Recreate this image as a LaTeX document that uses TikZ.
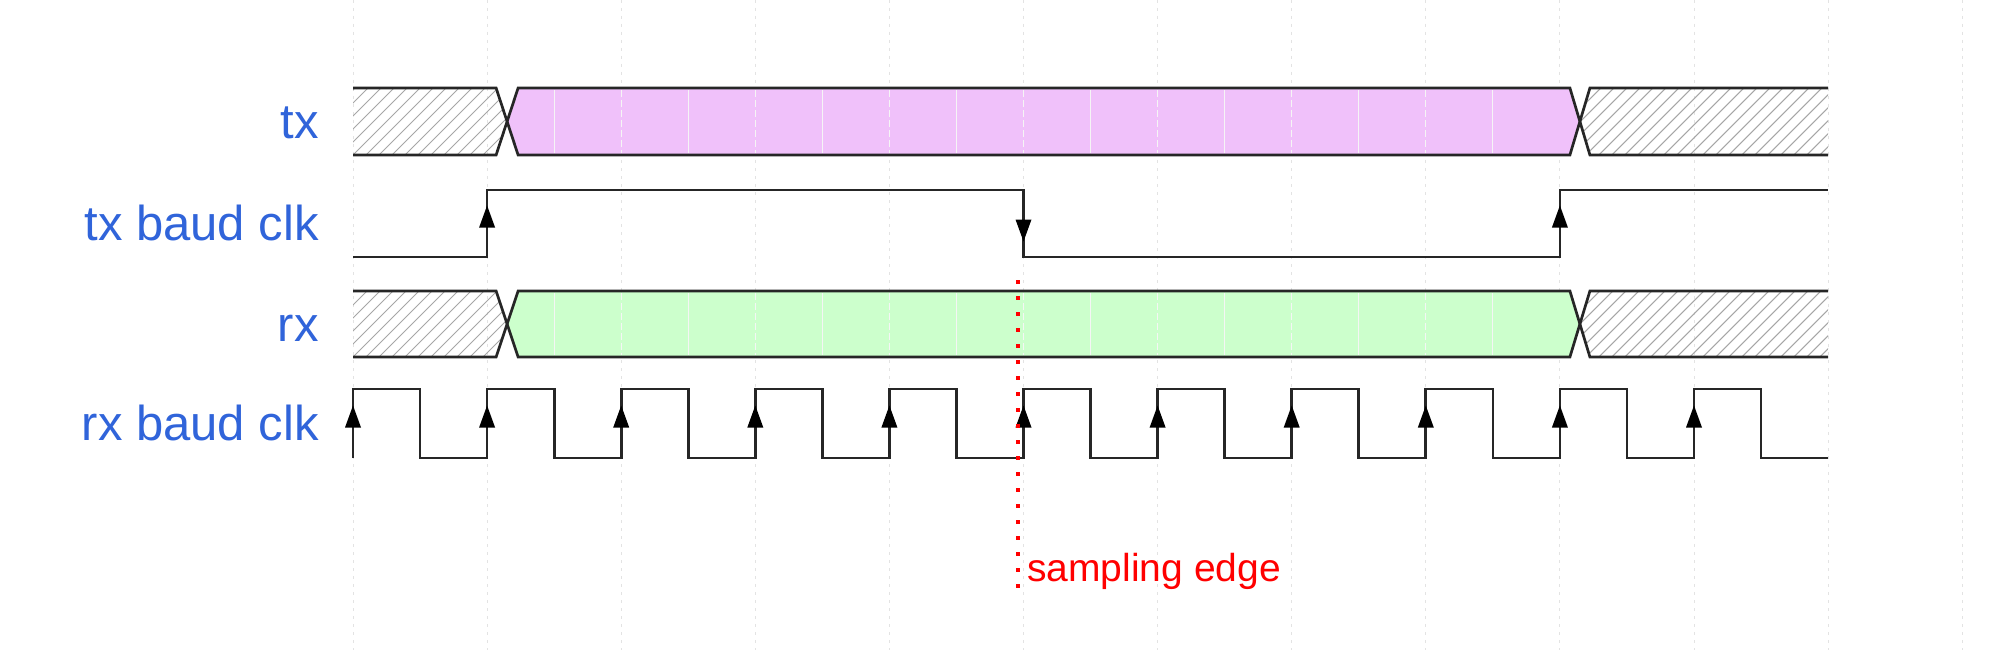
\documentclass[tikz,border=0pt]{standalone}
\usepackage{fontspec}
\setmainfont{Liberation Sans}
\definecolor{lblblue}{RGB}{48,100,218}
\definecolor{pinkfill}{RGB}{240,193,250}
\definecolor{greenfill}{RGB}{204,255,204}
\begin{document}
\begin{tikzpicture}[x=1pt,y=-1pt,
  wave/.style={line width=2.7pt, line join=miter, black!85},
  hatchline/.style={line width=1pt, gray!70},
  gridline/.style={line width=1pt, gray!22, dash pattern=on 3pt off 5pt},
  divsolid/.style={line width=1.2pt, white!92!gray},
  divdash/.style={line width=1.2pt, white!92!gray, dash pattern=on 7pt off 3pt},
  siglabel/.style={anchor=base east, inner sep=0pt, text=lblblue, font=\fontsize{49}{58}\selectfont},
  samplabel/.style={anchor=base west, inner sep=0pt, text=red, font=\fontsize{39}{46}\selectfont},
  sampline/.style={red, line width=4pt, dash pattern=on 4pt off 12pt}]
\useasboundingbox (0,0) rectangle (2013,650);
\fill[white] (0,0) rectangle (2013,650);
\def\xo{353}
\def\T{134.1}
% background grid
\foreach \k in {0,...,12}{
  \draw[gridline] ({\xo+\k*\T},0) -- ({\xo+\k*\T},650);
}
% ---------- generic bus drawing macro ----------
% #1 top y, #2 bottom y, #3 fill colour
\newcommand\busrow[3]{%
  \pgfmathsetmacro\mid{(#1+#2)/2}
  \pgfmathsetmacro\ea{\xo+1*\T}
  \pgfmathsetmacro\eb{\xo+9*\T}
  \pgfmathsetmacro\xend{\xo+11*\T}
  % data fill
  \fill[#3] ({\ea+20},\mid) -- ({\ea+31},#1) -- ({\eb+10},#1) -- ({\eb+20},\mid) -- ({\eb+10},#2) -- ({\ea+31},#2) -- cycle;
  % white divisions
  \foreach \h in {1.5,2.5,...,8.5}{
    \draw[divsolid] ({\xo+\h*\T},{#1+2}) -- ({\xo+\h*\T},{#2-2});
  }
  \foreach \h in {2,...,8}{
    \draw[divdash] ({\xo+\h*\T},{#1+2}) -- ({\xo+\h*\T},{#2-2});
  }
  % hatch left
  \begin{scope}
    \clip (\xo,#1) -- ({\ea+9},#1) -- ({\ea+20},\mid) -- ({\ea+9},#2) -- (\xo,#2) -- cycle;
    \foreach \i in {-7,...,13}{
      \draw[hatchline] ({\xo+\i*13},#2) -- ({\xo+\i*13+(#2-#1)},#1);
    }
  \end{scope}
  % hatch right
  \begin{scope}
    \clip (\xend,#1) -- ({\eb+30},#1) -- ({\eb+20},\mid) -- ({\eb+30},#2) -- (\xend,#2) -- cycle;
    \foreach \i in {-7,...,22}{
      \draw[hatchline] ({\eb+\i*13},#2) -- ({\eb+\i*13+(#2-#1)},#1);
    }
  \end{scope}
  % outlines
  \draw[wave] (\xo,#1) -- ({\ea+9},#1) -- ({\ea+31},#2) -- ({\eb+10},#2) -- ({\eb+30},#1) -- (\xend,#1);
  \draw[wave] (\xo,#2) -- ({\ea+9},#2) -- ({\ea+31},#1) -- ({\eb+10},#1) -- ({\eb+30},#2) -- (\xend,#2);
}
\newcommand\uparr[2]{\fill[black] ({#1-8},{#2+4}) -- ({#1},{#2-18}) -- ({#1+8},{#2+4}) -- cycle;}
\newcommand\dnarr[2]{\fill[black] ({#1-8},{#2-4}) -- ({#1},{#2+18}) -- ({#1+8},{#2-4}) -- cycle;}

% tx
\busrow{88}{155}{pinkfill}
% rx
\busrow{291}{357}{greenfill}

% tx baud clk
\draw[wave] (\xo,257) -- ({\xo+\T},257) -- ({\xo+\T},190) -- ({\xo+5*\T},190) -- ({\xo+5*\T},257) -- ({\xo+9*\T},257) -- ({\xo+9*\T},190) -- ({\xo+11*\T},190);
\uparr{\xo+\T}{223.5}
\dnarr{\xo+5*\T}{223.5}
\uparr{\xo+9*\T}{223.5}

% rx baud clk
\draw[wave] (\xo,458) \foreach \k in {0,...,10} { -- ({\xo+\k*\T},389) -- ({\xo+(\k+0.5)*\T},389) -- ({\xo+(\k+0.5)*\T},458) -- ({\xo+(\k+1)*\T},458) };
\foreach \k in {0,...,10}{
  \uparr{\xo+\k*\T}{423.5}
}
% labels
\node[siglabel] (ltx) at (319,139) {tx};
\node[siglabel] (ltxclk) at (319,240) {tx baud clk};
\node[siglabel] (lrx) at (319,341) {rx};
\node[siglabel] (lrxclk) at (319,440) {rx baud clk};

% sampling edge
\coordinate (stop) at (1018,280);
\coordinate (sbot) at (1018,594);
\draw[sampline] (stop) -- (sbot);
\node[samplabel] (samp) at (1027,581) {sampling edge};
\end{tikzpicture}
\end{document}
